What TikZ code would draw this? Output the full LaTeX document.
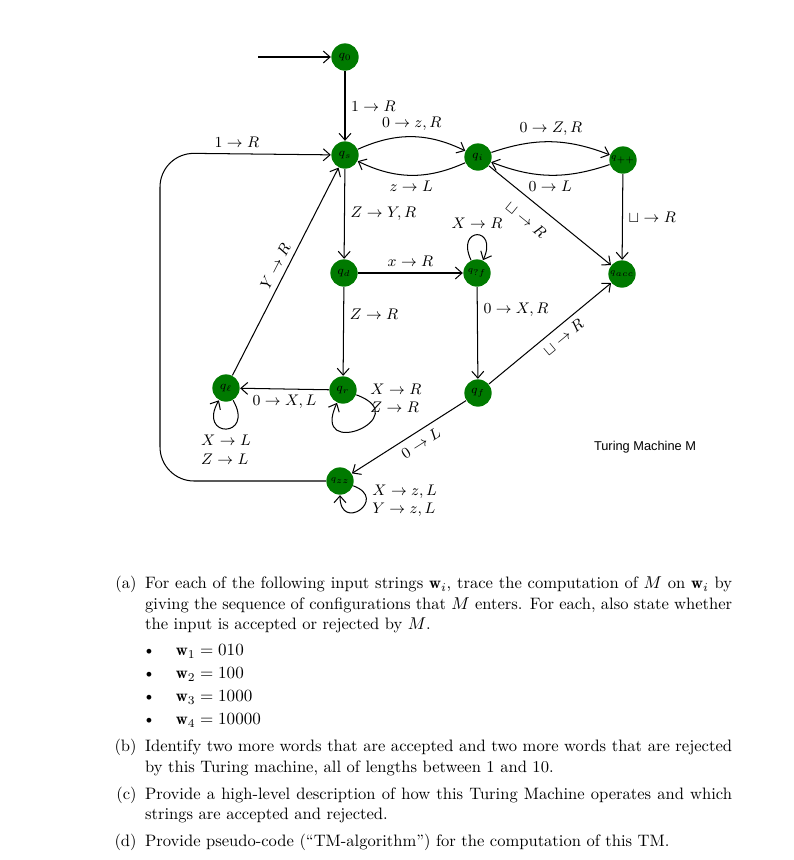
\documentclass[tikz,border=0pt]{standalone}
\usepackage{amssymb}
\usepackage{amsmath}
\usepackage{fontspec}
\newfontfamily\capfont{Liberation Sans}
\usetikzlibrary{arrows.meta}
\colorlet{stgreen}{green!48!black}
\renewcommand{\labelenumi}{(\alph{enumi})}
\renewcommand{\labelitemii}{$\bullet$}
\makeatletter
\def\@listI{\leftmargin\leftmargini \parsep 0pt \topsep 0pt \itemsep 3.8pt}
\let\@listi\@listI
\def\@listii{\leftmargin 18pt \labelsep 12pt \labelwidth 6pt
    \topsep 3pt \parsep 0pt \itemsep 1.5pt}
\makeatother

\begin{document}
\begin{tikzpicture}[x=0.0206cm,y=-0.0206cm,semithick,
        >={Straight Barb[length=4pt,width=7pt]},
        st/.style={circle,fill=stgreen,minimum size=16pt,inner sep=0pt,font=\scriptsize},
        lbl/.style={font=\small}]
    \useasboundingbox (0,0) rectangle (793,860);
    % states
    \node[st] (q0) at (345,57) {$q_0$};
    \node[st] (qs) at (345,155) {$q_s$};
    \node[st] (qi) at (478,157) {$q_i$};
    \node[st,font=\tiny] (qpp) at (623,160) {$q_{++}$};
    \node[st] (qd) at (344,273) {$q_d$};
    \node[st,font=\tiny] (qpf) at (477,273) {$q_{?f}$};
    \node[st,font=\tiny] (qacc) at (622,274) {$q_{acc}$};
    \node[st] (ql) at (226,388) {$q_\ell$};
    \node[st] (qr) at (343,390) {$q_r$};
    \node[st] (qf) at (478,393) {$q_f$};
    \node[st,font=\tiny] (qzz) at (340,481) {$q_{zz}$};
    \coordinate (start) at (258,57);
    \coordinate (lf) at (160,153);
    % transitions
    \draw[->] (start) -- (q0);
    \draw[->] (q0) -- node[lbl,right]{$1\to R$} (qs);
    \draw[->] (qs) to[bend left=25] node[lbl,above]{$0\to z,R$} (qi);
    \draw[->] (qi) to[bend left=25] node[lbl,below]{$z\to L$} (qs);
    \draw[->] (qi) to[bend left=20] node[lbl,above]{$0\to Z,R$} (qpp);
    \draw[->] (qpp) to[bend left=20] node[lbl,below]{$0\to L$} (qi);
    \draw[->] (qi) -- node[lbl,sloped,below=4pt,pos=0.4]{$\sqcup\to R$} (qacc);
    \draw[->] (qpp) -- node[lbl,right]{$\sqcup\to R$} (qacc);
    \draw[->] (qs) -- node[lbl,right]{$Z\to Y,R$} (qd);
    \draw[->] (qd) -- node[lbl,above]{$x\to R$} (qpf);
    \draw[->] (qpf) to[out=115,in=65,looseness=8,min distance=9pt] node[lbl,above]{$X\to R$} (qpf);
    \draw[->] (qpf) -- node[lbl,right,pos=0.25]{$0\to X,R$} (qf);
    \draw[->] (qd) -- node[lbl,right,pos=0.3]{$Z\to R$} (qr);
    \draw[->] (qr) to[out=-20,in=-115,looseness=8,min distance=9pt]
        node[lbl,pos=0.05,anchor=west,align=left]{$X\to R$\\$Z\to R$} (qr);
    \draw[->] (qr) -- node[lbl,below]{$0\to X,L$} (ql);
    \draw[->] (ql) to[out=-60,in=-120,looseness=8,min distance=13pt]
        node[lbl,below,align=left]{$X\to L$\\$Z\to L$} (ql);
    \draw[->] (ql) -- node[lbl,sloped,above]{$Y\to R$} (qs);
    \draw[->] (qf) -- node[lbl,sloped,below,pos=0.55]{$\sqcup\to R$} (qacc);
    \draw[->] (qf) -- node[lbl,sloped,below,pos=0.45]{$0\to L$} (qzz);
    \draw[->] (qzz) to[out=-20,in=-90,looseness=6,min distance=12pt]
        node[lbl,pos=0.3,anchor=west,align=left]{$X\to z,L$\\$Y\to z,L$} (qzz);
    \draw[->,rounded corners=20pt] (qzz) -| (lf) -- node[lbl,above,pos=0.45]{$1\to R$} (qs);
    \node[font=\capfont\fontsize{7.5}{9}\selectfont] (cap) at (645,447) {Turing Machine M};
    % questions
    \node[anchor=north west,text width=369pt,align=justify,inner sep=0pt,
        font=\fontsize{9.7}{12}\selectfont] (quest) at (102,568) {%
        \begin{enumerate}
            \item For each of the following input strings $\mathbf{w}_i$, trace the computation of $M$ on $\mathbf{w}_i$ by giving the sequence of configurations that $M$ enters. For each, also state whether the input is accepted or rejected by $M$.
            \begin{itemize}
                \item $\mathbf{w}_1 = 010$
                \item $\mathbf{w}_2 = 100$
                \item $\mathbf{w}_3 = 1000$
                \item $\mathbf{w}_4 = 10000$
            \end{itemize}
            \item Identify two more words that are accepted and two more words that are rejected by this Turing machine, all of lengths between 1 and 10.
            \item Provide a high-level description of how this Turing Machine operates and which strings are accepted and rejected.
            \item Provide pseudo-code (``TM-algorithm'') for the computation of this TM.
        \end{enumerate}};
\end{tikzpicture}
\end{document}
